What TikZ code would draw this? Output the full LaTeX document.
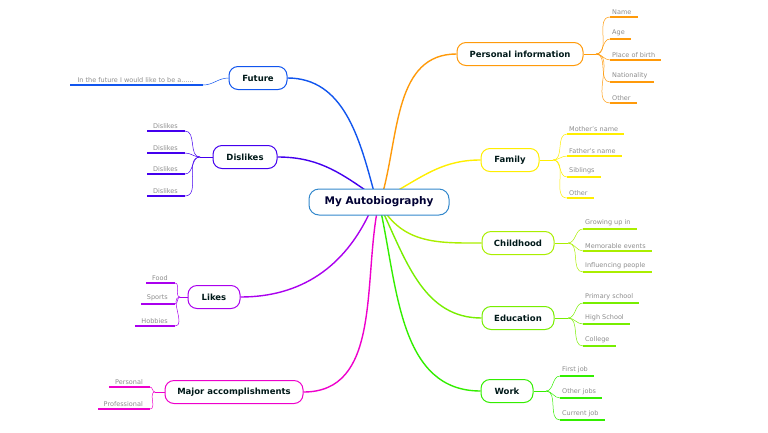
\documentclass[tikz,border=0pt]{standalone}
\usepackage{fontspec}
\setmainfont{DejaVu Sans}
\begin{document}
\begin{tikzpicture}[x=1pt,y=-1pt,
  br/.style={draw,rounded corners=9pt,line width=1pt,fill=white,minimum height=23pt,inner xsep=10pt,font=\fontsize{8.5}{10}\selectfont\bfseries,text=black!80!teal},
  leaf/.style={inner xsep=2pt,inner ysep=2.5pt,font=\fontsize{6.5}{8}\selectfont,text=black!45},
  ul/.style={line width=1.6pt},
  thin/.style={line width=0.5pt}]
\useasboundingbox (0,0) rectangle (768,432);
\definecolor{cPI}{HTML}{FF9A0A}\definecolor{cFa}{HTML}{FFEE00}\definecolor{cCh}{HTML}{AAEE00}
\definecolor{cEd}{HTML}{77EE00}\definecolor{cWo}{HTML}{33EE00}\definecolor{cFu}{HTML}{1155EE}
\definecolor{cDi}{HTML}{4400EE}\definecolor{cLi}{HTML}{AA00EE}\definecolor{cMa}{HTML}{EE00CC}
\definecolor{cC}{HTML}{3388CC}
% main connectors (drawn first)
\coordinate (s1) at (383,192);\coordinate (s2) at (395,192);\coordinate (s3) at (385,212);
\coordinate (s4) at (383,212);\coordinate (s5) at (381,212);\coordinate (s6) at (374,192);
\coordinate (s7) at (368,192);\coordinate (s8) at (370,212);\coordinate (s9) at (377,212);
\node[br,draw=cPI,minimum width=126pt] (pi) at (520,54) {Personal information};
\node[br,draw=cFa,minimum width=58pt] (fa) at (510,160) {Family};
\node[br,draw=cCh,minimum width=72pt] (ch) at (518,243) {Childhood};
\node[br,draw=cEd,minimum width=72pt] (ed) at (518,318) {Education};
\node[br,draw=cWo,minimum width=52pt] (wo) at (507,391) {Work};
\node[br,draw=cFu,minimum width=58pt] (fu) at (258,78) {Future};
\node[br,draw=cDi,minimum width=64pt] (di) at (245,157) {Dislikes};
\node[br,draw=cLi,minimum width=52pt] (li) at (214,297) {Likes};
\node[br,draw=cMa,minimum width=138pt] (ma) at (234,392) {Major accomplishments};
\begin{scope}[line width=1.4pt]
\draw[cPI] (s1) to[out=75,in=180] (pi.west);
\draw[cFa] (s2) to[out=30,in=180] (fa.west);
\draw[cCh] (s3) to[out=-55,in=180] (ch.west);
\draw[cEd] (s4) to[out=-65,in=180] (ed.west);
\draw[cWo] (s5) to[out=-78,in=180] (wo.west);
\draw[cFu] (s6) to[out=105,in=0] (fu.east);
\draw[cDi] (s7) to[out=145,in=0] (di.east);
\draw[cLi] (s8) to[out=-115,in=0] (li.east);
\draw[cMa] (s9) to[out=-100,in=0] (ma.east);
\end{scope}
\node[draw=cC,line width=1pt,rounded corners=10pt,fill=white,minimum width=140pt,minimum height=26pt,font=\fontsize{10.5}{12}\selectfont\bfseries,text=black!80!blue] (c) at (379,202) {My Autobiography};
% right leaves
\foreach \nm/\col/\jx/\jy/\lx/\list in {
 pi/cPI/596/54/610/{17/Name,39/Age,60/Place of birth,82/Nationality,103/Other},
 fa/cFa/553/160/567/{134/Mother's name,156/Father's name,177/Siblings,198/Other},
 ch/cCh/568/243/583/{229/Growing up in,251/Memorable events,272/Influencing people},
 ed/cEd/568/318/583/{303/Primary school,324/High School,346/College},
 wo/cWo/546/391/560/{376/First job,398/Other jobs,420/Current job}}{
 \coordinate (\nm j) at (\jx,\jy);
 \draw[thin,\col] (\nm.east) -- (\nm j);
 \foreach \ly/\t [count=\i] in \list {
  \node[leaf,anchor=south west] (\nm l\i) at (\lx,\ly) {\t};
  \draw[thin,\col] (\nm j) to[out=0,in=180] (\nm l\i.south west);
  \draw[ul,\col] (\nm l\i.south west) -- ([xshift=4pt]\nm l\i.south east);
 }}
% left leaves
\foreach \nm/\col/\jx/\jy/\lx/\list in {
 di/cDi/200/157/185/{131/Dislikes,153/Dislikes,174/Dislikes,196/Dislikes},
 li/cLi/180/297/175/{283/Food,304/Sports,326/Hobbies},
 ma/cMa/155/392/150/{387/Personal,409/Professional}}{
 \coordinate (\nm j) at (\jx,\jy);
 \draw[thin,\col] (\nm.west) -- (\nm j);
 \foreach \ly/\t [count=\i] in \list {
  \node[leaf,anchor=south east] (\nm l\i) at ([xshift=-5pt]\lx,\ly) {\t};
  \coordinate (\nm e\i) at (\lx,\ly);
  \draw[thin,\col] (\nm j) to[out=180,in=0] (\nm e\i);
  \draw[ul,\col] (\nm e\i) -- ([xshift=-4pt]\nm l\i.south west);
 }}
\node[leaf,anchor=south east] (ful) at (196,85) {In the future I would like to be a......};
\coordinate (fue) at (203,85);
\draw[thin,cFu] (fu.west) to[out=180,in=0] (fue);
\draw[ul,cFu] (fue) -- (70,85);
\end{tikzpicture}
\end{document}
